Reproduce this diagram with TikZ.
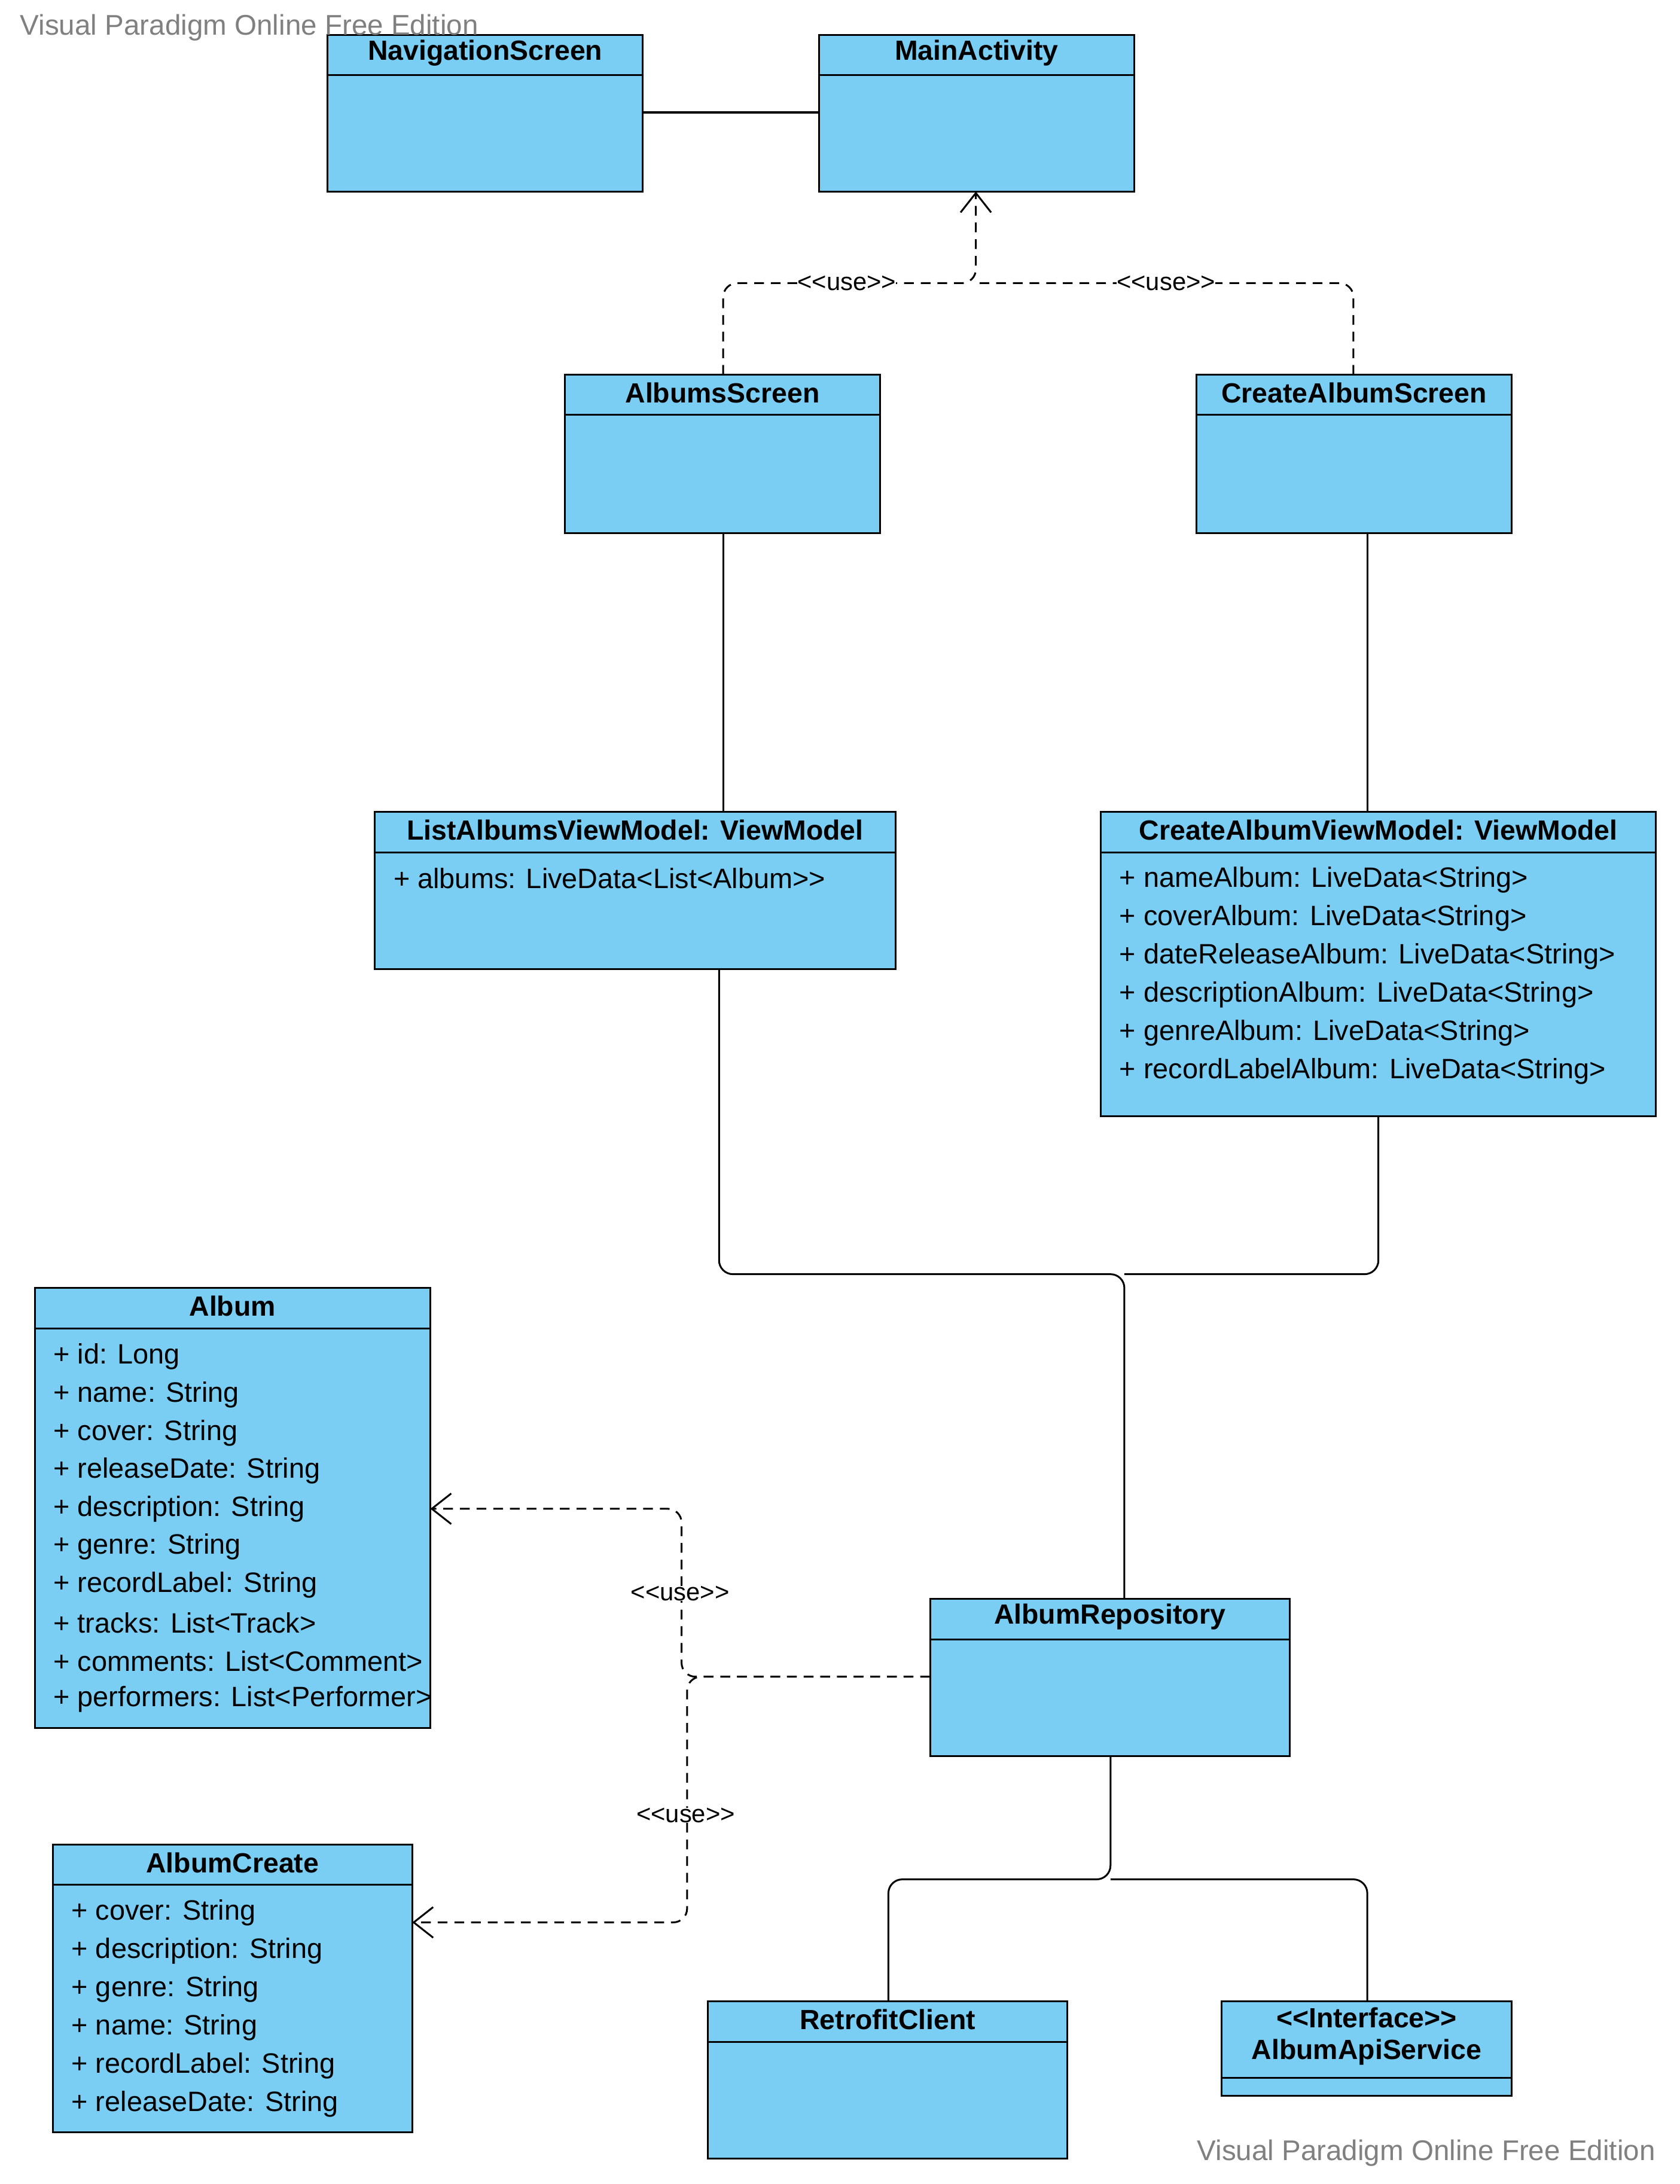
\documentclass[tikz,border=0pt]{standalone}
\usepackage{fontspec}
\setmainfont{Liberation Sans}
\usetikzlibrary{arrows.meta}
\definecolor{boxfill}{HTML}{7ACEF4}
\begin{document}
\begin{tikzpicture}[x=1pt,y=-1pt,
  cls/.style={draw=black,fill=boxfill,line width=1.3pt},
  ttl/.style={font=\fontsize{20}{23}\selectfont\bfseries,anchor=center},
  att/.style={font=\fontsize{20.2}{22}\selectfont,anchor=west},
  conn/.style={line width=1.3pt,rounded corners=10pt},
  dep/.style={conn,dashed,dash pattern=on 7pt off 5pt},
  arr/.style={-{Straight Barb[length=14pt,width=22pt]}},
  lbl/.style={font=\fontsize{18}{20}\selectfont,fill=white,inner sep=0pt},
  wm/.style={font=\fontsize{20.5}{22}\selectfont,text=gray}]
\useasboundingbox (0,0) rectangle (1210,1573.5);
\newcommand{\umlbox}[6]{% name, x1,y1,x2,y2, header bottom
  \draw[cls] (#2,#3) rectangle (#4,#5);
  \draw[line width=1.3pt] (#2,#6) -- (#4,#6);
  \coordinate (#1-nw) at (#2,#3);}
\umlbox{nav}{236}{25}{463}{138}{54}
\node[ttl] at (349.5,38) {NavigationScreen};
\umlbox{main}{590}{25}{817}{138}{54}
\node[ttl] at (703.5,38) {MainActivity};
\umlbox{as}{407}{270}{634}{384}{299}
\node[ttl] at (520.5,283) {AlbumsScreen};
\umlbox{cas}{862}{270}{1089}{384}{299}
\node[ttl] at (975.5,283) {CreateAlbumScreen};
\umlbox{lvm}{270}{585}{645}{698}{614}
\node[ttl] at (457.5,598) {ListAlbumsViewModel: ViewModel};
\node[att] at (280,633) {+ albums: LiveData<List<Album>{}>};
\umlbox{cvm}{793}{585}{1193}{804}{614}
\node[ttl] at (993,598) {CreateAlbumViewModel: ViewModel};
\foreach \t [count=\i from 0] in {nameAlbum,coverAlbum,dateReleaseAlbum,descriptionAlbum,genreAlbum,recordLabelAlbum}
  \node[att] at (803,634+27.6*\i) {+ \t: LiveData<String>};
\umlbox{alb}{25}{928}{310}{1245}{957}
\node[ttl] at (167.5,941) {Album};
\foreach \t [count=\i from 0] in {id: Long,name: String,cover: String,releaseDate: String,description: String,genre: String,recordLabel: String,tracks: List<Track>,comments: List<Comment>,performers: List<Performer>}
  \node[att] at (35,977.5+27.4*\i) {+ \t};
\umlbox{ac}{38}{1329}{297}{1536}{1358}
\node[ttl] at (167.5,1342) {AlbumCreate};
\foreach \t [count=\i from 0] in {cover: String,description: String,genre: String,name: String,recordLabel: String,releaseDate: String}
  \node[att] at (48,1378+27.6*\i) {+ \t};
\umlbox{repo}{670}{1152}{929}{1265}{1181}
\node[ttl] at (799.5,1165) {AlbumRepository};
\umlbox{rc}{510}{1442}{769}{1555}{1471}
\node[ttl] at (639.5,1455) {RetrofitClient};
\umlbox{api}{880}{1442}{1089}{1510}{1497}
\node[ttl,align=center] at (984.5,1467) {<{}<Interface>{}>\\AlbumApiService};
% connectors
\draw[conn] (463,81) -- (590,81);
\draw[dep,arr] (521,270) -- (521,204) -- (703,204) -- (703,138);
\draw[dep] (975,270) -- (975,204) -- (703,204);
\node[lbl] at (610,204) {<{}<use>{}>};
\node[lbl] at (840,204) {<{}<use>{}>};
\draw[conn] (521,384) -- (521,585);
\draw[conn] (985,384) -- (985,585);
\draw[conn] (518,698) -- (518,918) -- (810,918) -- (810,1152);
\draw[conn] (993,804) -- (993,918) -- (810,918);
\draw[dep,arr] (670,1208) -- (491,1208) -- (491,1087) -- (310,1087);
\draw[dep,arr] (670,1208) -- (495,1208) -- (495,1385) -- (297,1385);
\node[lbl] at (490,1148) {<{}<use>{}>};
\node[lbl] at (494,1308) {<{}<use>{}>};
\draw[conn] (800,1265) -- (800,1354) -- (640,1354) -- (640,1442);
\draw[conn] (800,1354) -- (985,1354) -- (985,1442);
\node[wm,anchor=west] at (11,20) {Visual Paradigm Online Free Edition};
\node[wm,anchor=east] at (1196,1551) {Visual Paradigm Online Free Edition};
\end{tikzpicture}
\end{document}
